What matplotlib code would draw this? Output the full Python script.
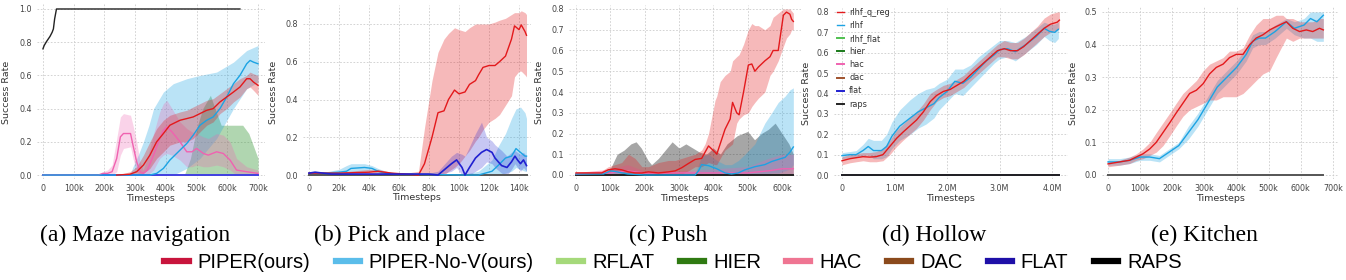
import numpy as np
import matplotlib
matplotlib.use("Agg")
import matplotlib.pyplot as plt
from matplotlib.lines import Line2D

# ---------------- data (x in thousands of steps, hollow in millions) ----------------
# (a) Maze navigation
maze_raps_x = [0, 4, 12, 23, 30, 34, 38, 44, 641]
maze_raps_y = [0.76, 0.78, 0.805, 0.835, 0.86, 0.88, 0.94, 1.0, 1.0]
maze_flat_x = [0, 700]
maze_flat_y = [0, 0]
maze_hac_x = [0, 180, 195, 210, 225, 240, 252, 262, 285, 293, 305, 316, 326, 340, 360, 380, 392, 403, 420,
              446, 468, 485, 500, 522, 538, 565, 587, 609, 630, 663, 700]
maze_hac_y = [0, 0, 0.01, 0.01, 0.02, 0.1, 0.23, 0.25, 0.25, 0.18, 0.08, 0.02, 0.01, 0.03, 0.12, 0.22, 0.27,
              0.29, 0.26, 0.2, 0.14, 0.14, 0.16, 0.13, 0.12, 0.14, 0.13, 0.09, 0.03, 0.02, 0.01]
maze_hac_hi = [0, 0, 0.02, 0.03, 0.06, 0.22, 0.35, 0.37, 0.36, 0.3, 0.2, 0.08, 0.03, 0.1, 0.25, 0.38, 0.43,
               0.45, 0.4, 0.32, 0.28, 0.26, 0.25, 0.23, 0.22, 0.25, 0.24, 0.2, 0.1, 0.05, 0.03]
maze_hac_lo = [0, 0, 0, 0, 0, 0.02, 0.12, 0.16, 0.17, 0.1, 0.02, 0, 0, 0, 0.03, 0.1, 0.12, 0.13, 0.12,
               0.09, 0.05, 0.05, 0.06, 0.05, 0.05, 0.06, 0.05, 0.03, 0, 0, 0]
maze_piper_x = [240, 283, 305, 327, 348, 370, 392, 413, 446, 468, 489, 511, 533, 554, 576, 598, 620, 641,
                663, 674, 685, 700]
maze_piper_y = [0, 0.005, 0.02, 0.06, 0.12, 0.2, 0.25, 0.3, 0.33, 0.34, 0.35, 0.37, 0.39, 0.4, 0.44, 0.47,
                0.5, 0.53, 0.58, 0.58, 0.56, 0.54]
maze_piper_hi = [0, 0.02, 0.05, 0.12, 0.2, 0.28, 0.33, 0.36, 0.38, 0.39, 0.41, 0.43, 0.45, 0.46, 0.49, 0.52,
                 0.55, 0.58, 0.6, 0.62, 0.61, 0.6]
maze_piper_lo = [0, 0, 0, 0.01, 0.04, 0.1, 0.14, 0.18, 0.2, 0.2, 0.22, 0.26, 0.3, 0.32, 0.37, 0.4, 0.44,
                 0.47, 0.52, 0.53, 0.51, 0.48]
maze_nov_x = [0, 348, 370, 392, 413, 446, 468, 489, 511, 533, 554, 576, 598, 620, 641, 663, 674, 685, 700]
maze_nov_y = [0, 0, 0.01, 0.04, 0.09, 0.15, 0.19, 0.24, 0.3, 0.33, 0.35, 0.4, 0.47, 0.55, 0.6, 0.67, 0.69,
              0.68, 0.67]
maze_nov_band_x = [283, 293, 310, 327, 345, 360, 392, 424, 468, 511, 565, 620, 663, 700]
maze_nov_hi = [0, 0.05, 0.12, 0.2, 0.3, 0.4, 0.5, 0.55, 0.58, 0.6, 0.62, 0.68, 0.75, 0.78]
maze_nov_lo = [0, 0, 0, 0, 0, 0, 0, 0, 0.04, 0.1, 0.22, 0.4, 0.52, 0.56]
maze_green_x = [460, 480, 500, 520, 545, 560, 580, 620, 650, 670, 690, 700]
maze_green_hi = [0, 0.1, 0.28, 0.4, 0.48, 0.4, 0.3, 0.3, 0.3, 0.25, 0.15, 0.1]
maze_green_lo = [0, 0, 0, 0, 0, 0, 0, 0, 0, 0, 0, 0]

# (b) Pick and place
pick_piper_x = [0, 20, 40, 46, 55, 65, 73, 77, 82, 86, 90, 93, 97, 100, 104, 107, 111, 113, 116, 120, 124,
                127, 131, 135, 137, 140, 141.5, 144, 145]
pick_piper_y = [0.01, 0.01, 0.015, 0.02, 0.01, 0.005, 0.0, 0.06, 0.2, 0.33, 0.34, 0.4, 0.45, 0.43, 0.44,
                0.48, 0.5, 0.53, 0.57, 0.58, 0.58, 0.6, 0.63, 0.72, 0.79, 0.77, 0.795, 0.76, 0.74]
pick_piper_hi = [0.015, 0.015, 0.03, 0.03, 0.015, 0.01, 0.02, 0.25, 0.5, 0.65, 0.72, 0.75, 0.78, 0.77, 0.76,
                 0.78, 0.8, 0.8, 0.8, 0.8, 0.81, 0.82, 0.83, 0.85, 0.86, 0.86, 0.87, 0.86, 0.85]
pick_piper_lo = [0.005, 0.005, 0.005, 0.01, 0.005, 0, 0, 0, 0, 0, 0, 0.02, 0.04, 0.06, 0.1, 0.13, 0.18, 0.2,
                 0.24, 0.28, 0.3, 0.32, 0.37, 0.42, 0.52, 0.55, 0.55, 0.53, 0.52]
pick_nov_x = [0, 10, 20, 25, 28, 37, 42, 46, 51, 60, 80, 104, 113, 122, 126, 131, 135, 138, 141, 144, 145]
pick_nov_y = [0.01, 0.01, 0.015, 0.02, 0.035, 0.04, 0.035, 0.02, 0.01, 0.005, 0.003, 0, 0, 0.02, 0.05, 0.09,
              0.1, 0.14, 0.12, 0.1, 0.1]
pick_nov_hi = [0.015, 0.015, 0.03, 0.05, 0.06, 0.06, 0.05, 0.035, 0.02, 0.01, 0.005, 0.005, 0.02, 0.08, 0.15,
               0.22, 0.3, 0.35, 0.36, 0.33, 0.3]
pick_nov_lo = [0.005, 0.005, 0.005, 0.005, 0.01, 0.02, 0.02, 0.01, 0.005, 0, 0, 0, 0, 0, 0, 0.01, 0.02, 0.04,
               0.03, 0.02, 0.02]
pick_flat_x = [0, 4, 15, 40, 80, 86, 95, 98.4, 102, 104, 107, 111, 115, 118.4, 122, 124, 128.4, 132, 135,
               137.3, 139, 141, 143, 145]
pick_flat_y = [0.01, 0.015, 0.005, 0.005, 0.005, 0, 0.06, 0.08, 0.04, 0.0, 0.04, 0.09, 0.12, 0.135, 0.12,
               0.09, 0.05, 0.04, 0.07, 0.1, 0.08, 0.06, 0.08, 0.05]
pick_flat_hi = [0.015, 0.02, 0.01, 0.01, 0.01, 0.02, 0.1, 0.12, 0.11, 0.1, 0.15, 0.22, 0.28, 0.2, 0.18, 0.16,
                0.13, 0.1, 0.12, 0.13, 0.12, 0.11, 0.12, 0.1]
pick_flat_lo = [0.005, 0.01, 0, 0, 0, 0, 0.02, 0.04, 0, 0, 0, 0.02, 0.04, 0.07, 0.06, 0.04, 0.01, 0, 0.03,
                0.06, 0.04, 0.02, 0.04, 0.02]
pick_raps_x = [0, 145]
pick_raps_y = [0, 0]

# (c) Push
push_piper_x = [0, 75, 94, 114, 133, 153, 172, 192, 211, 240, 269, 289, 308, 327, 347, 366, 376, 386, 405,
                410, 420, 434, 449, 456, 468, 475, 488, 502, 512, 521, 531, 550, 565, 574, 589, 604, 613, 623,
                628, 633]
push_piper_y = [0.01, 0.01, 0.025, 0.03, 0.025, 0.015, 0.01, 0.01, 0.015, 0.01, 0.015, 0.02, 0.035, 0.055,
                0.075, 0.08, 0.11, 0.14, 0.11, 0.1, 0.15, 0.22, 0.27, 0.35, 0.3, 0.29, 0.4, 0.53, 0.535, 0.5,
                0.52, 0.55, 0.57, 0.6, 0.6, 0.77, 0.785, 0.775, 0.75, 0.74]
push_piper_hi = [0.015, 0.02, 0.04, 0.05, 0.06, 0.1, 0.08, 0.04, 0.04, 0.06, 0.07, 0.07, 0.08, 0.09, 0.1,
                 0.12, 0.15, 0.2, 0.36, 0.38, 0.45, 0.48, 0.5, 0.55, 0.57, 0.58, 0.63, 0.7, 0.73, 0.72, 0.72,
                 0.7, 0.72, 0.76, 0.78, 0.8, 0.8, 0.8, 0.79, 0.78]
push_piper_lo = [0.005, 0.005, 0.01, 0.015, 0.01, 0.005, 0, 0, 0, 0, 0, 0, 0.005, 0.02, 0.04, 0.04, 0.05,
                 0.06, 0.05, 0.05, 0.08, 0.12, 0.14, 0.15, 0.25, 0.27, 0.29, 0.3, 0.33, 0.35, 0.37, 0.4, 0.48,
                 0.5, 0.55, 0.62, 0.66, 0.68, 0.7, 0.7]
push_nov_x = [0, 80, 100, 120, 150, 200, 347, 357, 366, 386, 410, 434, 453, 473, 492, 521, 550, 570, 589,
              609, 623, 633]
push_nov_y = [0.005, 0.005, 0.02, 0.015, 0.005, 0, 0, 0.02, 0.05, 0.045, 0.03, 0.01, 0.005, 0.01, 0.025,
              0.04, 0.05, 0.065, 0.075, 0.085, 0.11, 0.135]
push_nov_hi = [0.01, 0.01, 0.03, 0.03, 0.01, 0.005, 0.01, 0.05, 0.09, 0.1, 0.07, 0.05, 0.05, 0.07, 0.1, 0.15,
               0.25, 0.3, 0.35, 0.38, 0.41, 0.42]
push_nov_lo = [0, 0, 0.01, 0.005, 0, 0, 0, 0, 0.01, 0.01, 0, 0, 0, 0, 0, 0, 0, 0.01, 0.01, 0.02, 0.03, 0.05]
push_gray_x = [80, 100, 120, 140, 160, 175, 190, 210, 220, 240, 260, 280, 300, 320, 340, 360, 380, 400, 420,
               440, 470, 500, 520, 540, 560, 580, 600, 620, 633]
push_gray_hi = [0, 0.03, 0.1, 0.12, 0.15, 0.16, 0.13, 0.07, 0.05, 0.08, 0.12, 0.16, 0.13, 0.15, 0.13, 0.11,
                0.1, 0.13, 0.1, 0.15, 0.19, 0.21, 0.17, 0.2, 0.22, 0.25, 0.2, 0.15, 0.1]
push_hac_x = [0, 100, 150, 200, 300, 400, 500, 560, 600, 633]
push_hac_y = [0.005, 0.01, 0.02, 0.01, 0.01, 0.01, 0.01, 0.02, 0.03, 0.03]
push_hac_hi = [0.01, 0.03, 0.05, 0.02, 0.02, 0.03, 0.04, 0.08, 0.1, 0.1]
push_hac_lo = [0, 0, 0, 0, 0, 0, 0, 0, 0, 0]
push_raps_x = [0, 633]
push_raps_y = [0, 0]

# (d) Hollow (x in millions)
hol_piper_x = [0, 0.15, 0.27, 0.4, 0.53, 0.65, 0.78, 0.91, 1.04, 1.16, 1.29, 1.42, 1.55, 1.68, 1.8, 1.93,
               2.06, 2.19, 2.32, 2.44, 2.57, 2.7, 2.83, 2.96, 3.09, 3.21, 3.34, 3.46, 3.59, 3.72, 3.85, 3.97,
               4.1, 4.14]
hol_piper_y = [0.07, 0.08, 0.085, 0.09, 0.088, 0.09, 0.1, 0.14, 0.18, 0.21, 0.24, 0.27, 0.31, 0.36, 0.39,
               0.41, 0.42, 0.44, 0.46, 0.49, 0.52, 0.55, 0.58, 0.61, 0.62, 0.61, 0.61, 0.63, 0.66, 0.69, 0.72,
               0.74, 0.75, 0.76]
hol_piper_hi = [0.09, 0.1, 0.105, 0.11, 0.11, 0.115, 0.13, 0.17, 0.22, 0.25, 0.28, 0.31, 0.35, 0.4, 0.42,
                0.44, 0.45, 0.47, 0.49, 0.52, 0.55, 0.58, 0.61, 0.64, 0.66, 0.65, 0.65, 0.67, 0.7, 0.73, 0.77,
                0.79, 0.8, 0.8]
hol_piper_lo = [0.05, 0.06, 0.065, 0.07, 0.065, 0.065, 0.07, 0.1, 0.14, 0.17, 0.2, 0.23, 0.27, 0.32, 0.36,
                0.38, 0.39, 0.41, 0.43, 0.46, 0.49, 0.52, 0.55, 0.58, 0.58, 0.57, 0.57, 0.59, 0.62, 0.65, 0.68,
                0.7, 0.71, 0.72]
hol_nov_x = [0, 0.15, 0.27, 0.4, 0.5, 0.6, 0.75, 0.85, 0.95, 1.1, 1.3, 1.45, 1.6, 1.75, 1.85, 2.0, 2.15, 2.3,
             2.45, 2.6, 2.75, 2.9, 3.0, 3.15, 3.3, 3.5, 3.7, 3.85, 3.95, 4.05, 4.12]
hol_nov_y = [0.095, 0.1, 0.1, 0.12, 0.14, 0.12, 0.12, 0.14, 0.19, 0.24, 0.28, 0.31, 0.33, 0.35, 0.38, 0.41,
             0.46, 0.45, 0.48, 0.52, 0.56, 0.59, 0.615, 0.62, 0.605, 0.64, 0.68, 0.72, 0.705, 0.7, 0.715]
hol_nov_hi = [0.11, 0.115, 0.12, 0.15, 0.18, 0.17, 0.17, 0.2, 0.26, 0.32, 0.37, 0.4, 0.42, 0.43, 0.45, 0.47,
              0.52, 0.52, 0.54, 0.58, 0.61, 0.64, 0.66, 0.66, 0.65, 0.68, 0.72, 0.75, 0.74, 0.74, 0.75]
hol_nov_lo = [0.08, 0.085, 0.085, 0.095, 0.1, 0.08, 0.08, 0.09, 0.13, 0.17, 0.2, 0.23, 0.25, 0.28, 0.32,
              0.36, 0.4, 0.39, 0.43, 0.47, 0.51, 0.55, 0.57, 0.58, 0.56, 0.6, 0.64, 0.68, 0.66, 0.65, 0.67]
hol_zero_x = [0, 4.14]
hol_zero_y = [0, 0]
hol_legend_labels = ["rlhf_q_reg", "rlhf", "rlhf_flat", "hier", "hac", "dac", "flat", "raps"]

# (e) Kitchen
kit_piper_x = [0, 36, 67, 88, 109, 130, 150, 171, 192, 212, 233, 254, 275, 296, 316, 337, 358, 378, 399, 420,
               441, 461, 482, 503, 523, 544, 555, 575, 596, 617, 637, 658, 670]
kit_piper_y = [0.034, 0.04, 0.045, 0.055, 0.065, 0.08, 0.1, 0.13, 0.16, 0.19, 0.22, 0.25, 0.26, 0.28, 0.31,
               0.33, 0.34, 0.36, 0.37, 0.37, 0.4, 0.42, 0.43, 0.445, 0.455, 0.465, 0.47, 0.45, 0.44, 0.445,
               0.44, 0.45, 0.445]
kit_piper_hi = [0.04, 0.045, 0.055, 0.065, 0.08, 0.1, 0.13, 0.16, 0.19, 0.22, 0.25, 0.27, 0.29, 0.32, 0.34,
                0.35, 0.36, 0.38, 0.38, 0.39, 0.43, 0.46, 0.48, 0.48, 0.49, 0.49, 0.48, 0.48, 0.47, 0.47,
                0.47, 0.48, 0.48]
kit_piper_lo = [0.025, 0.03, 0.035, 0.045, 0.05, 0.06, 0.07, 0.09, 0.12, 0.15, 0.18, 0.2, 0.21, 0.22, 0.23,
                0.23, 0.24, 0.24, 0.24, 0.25, 0.27, 0.29, 0.31, 0.32, 0.36, 0.4, 0.42, 0.41, 0.42, 0.42,
                0.42, 0.42, 0.42]
kit_nov_x = [0, 36, 67, 100, 130, 160, 190, 220, 250, 280, 310, 340, 370, 400, 430, 450, 470, 490, 520, 555,
             580, 610, 630, 650, 670]
kit_nov_y = [0.04, 0.04, 0.045, 0.055, 0.055, 0.05, 0.07, 0.09, 0.13, 0.17, 0.22, 0.27, 0.3, 0.33, 0.37,
             0.41, 0.42, 0.42, 0.44, 0.47, 0.45, 0.46, 0.48, 0.47, 0.49]
kit_nov_hi = [0.05, 0.05, 0.055, 0.065, 0.065, 0.06, 0.08, 0.1, 0.15, 0.19, 0.24, 0.29, 0.32, 0.35, 0.39,
              0.43, 0.44, 0.44, 0.46, 0.48, 0.47, 0.48, 0.5, 0.5, 0.5]
kit_nov_lo = [0.03, 0.03, 0.035, 0.045, 0.045, 0.04, 0.06, 0.08, 0.11, 0.15, 0.2, 0.25, 0.28, 0.31, 0.35,
              0.39, 0.4, 0.4, 0.42, 0.45, 0.43, 0.42, 0.42, 0.41, 0.41]
kit_raps_x = [0, 670]
kit_raps_y = [0, 0]

captions = ["(a) Maze navigation", "(b) Pick and place", "(c) Push", "(d) Hollow", "(e) Kitchen"]
legend_labels = ["PIPER(ours)", "PIPER-No-V(ours)", "RFLAT", "HIER", "HAC", "DAC", "FLAT", "RAPS"]
legend_colors = ["#c8143c", "#5bbdea", "#a5d97a", "#2f7a12", "#ef7592", "#8b4a1c", "#1e0fa8", "#000000"]

# ---------------- style ----------------
C_RED = "#e3191c"
C_BLUE = "#1ca3e3"
C_PINK = "#f062b0"
C_GREEN = "#3a9a3a"
C_LGREEN = "#4fc04f"
C_DGREEN = "#1a7a1a"
C_BROWN = "#a0522d"
C_FLAT = "#2020d0"
C_RAPS = "#222222"

W, H = 1346, 280
fig = plt.figure(figsize=(W / 100, H / 100), dpi=100)


def make_ax(px_left, px_right, px_top, px_bottom, xlim, ylim):
    ax = fig.add_axes([px_left / W, 1 - px_bottom / H, (px_right - px_left) / W, (px_bottom - px_top) / H])
    ax.set_xlim(*xlim)
    ax.set_ylim(*ylim)
    for s in ax.spines.values():
        s.set_visible(False)
    ax.grid(True, color="#cccccc", linestyle=(0, (2, 2)), linewidth=0.6)
    ax.set_axisbelow(True)
    ax.tick_params(length=0, pad=3.5, labelsize=5.8, labelcolor="#444444")
    ax.set_ylabel("Success Rate", fontsize=6.8, color="#333333")
    ax.set_xlabel("Timesteps", fontsize=6.8, color="#333333", labelpad=0.5)
    return ax


def band(ax, x, lo, hi, color, alpha):
    ax.fill_between(x, lo, hi, color=color, alpha=alpha, linewidth=0)


def line(ax, x, y, color, lw=1.0, label=None):
    ax.plot(x, y, color=color, linewidth=lw, label=label)


def set_ylabel_px(ax, px_x, px_y):
    ax.yaxis.set_label_coords(px_x / W, 1 - px_y / H, transform=fig.transFigure)
    ax.yaxis.label.set_verticalalignment("center")


def kfmt(vals):
    return ["0" if v == 0 else f"{int(v)}k" for v in vals]


# (a) Maze
ax = make_ax(36.5, 264.5, 4.0, 179.2, (-21, 721), (-0.025, 1.03))
band(ax, maze_green_x, maze_green_lo, maze_green_hi, C_GREEN, 0.4)
band(ax, maze_nov_band_x, maze_nov_lo, maze_nov_hi, C_BLUE, 0.3)
band(ax, maze_hac_x, maze_hac_lo, maze_hac_hi, C_PINK, 0.28)
band(ax, maze_piper_x, maze_piper_lo, maze_piper_hi, C_RED, 0.3)
line(ax, maze_flat_x, maze_flat_y, "#4040e0", 1.4)
line(ax, maze_hac_x, maze_hac_y, C_PINK)
line(ax, maze_nov_x, maze_nov_y, C_BLUE)
line(ax, maze_piper_x, maze_piper_y, C_RED)
line(ax, maze_raps_x, maze_raps_y, C_RAPS)
t = np.arange(0, 701, 100)
ax.set_xticks(t, kfmt(t))
ax.set_yticks(np.arange(0, 1.01, 0.2))
ax.yaxis.set_major_formatter(matplotlib.ticker.FormatStrFormatter("%.1f"))
set_ylabel_px(ax, 6.5, 92)

# (b) Pick and place
ax = make_ax(303, 531, 5.1, 178.8, (-4, 148), (-0.02, 0.9))
band(ax, pick_nov_x, pick_nov_lo, pick_nov_hi, C_BLUE, 0.3)
band(ax, pick_piper_x, pick_piper_lo, pick_piper_hi, C_RED, 0.3)
band(ax, pick_flat_x, pick_flat_lo, pick_flat_hi, C_FLAT, 0.25)
line(ax, pick_raps_x, pick_raps_y, "#555555", 1.4)
line(ax, pick_nov_x, pick_nov_y, C_BLUE)
line(ax, pick_piper_x, pick_piper_y, C_RED)
line(ax, pick_flat_x, pick_flat_y, C_FLAT, 1.2)
t = np.arange(0, 141, 20)
ax.set_xticks(t, kfmt(t))
ax.set_yticks(np.arange(0, 0.81, 0.2))
ax.yaxis.set_major_formatter(matplotlib.ticker.FormatStrFormatter("%.1f"))
set_ylabel_px(ax, 273, 92)

# (c) Push
ax = make_ax(569.1, 800.9, 4.85, 179.15, (-20, 655), (-0.02, 0.82))
band(ax, push_gray_x, [0] * len(push_gray_x), push_gray_hi, "#000000", 0.35)
band(ax, push_nov_x, push_nov_lo, push_nov_hi, C_BLUE, 0.3)
band(ax, push_hac_x, push_hac_lo, push_hac_hi, C_PINK, 0.3)
band(ax, push_piper_x, push_piper_lo, push_piper_hi, C_RED, 0.3)
line(ax, push_raps_x, push_raps_y, C_RAPS, 1.4)
line(ax, push_hac_x, push_hac_y, C_PINK)
line(ax, push_nov_x, push_nov_y, C_BLUE)
line(ax, push_piper_x, push_piper_y, C_RED)
t = np.arange(0, 601, 100)
ax.set_xticks(t, kfmt(t))
ax.set_yticks(np.arange(0, 0.81, 0.1))
ax.yaxis.set_major_formatter(matplotlib.ticker.FormatStrFormatter("%.1f"))
set_ylabel_px(ax, 540, 92)

# (d) Hollow
ax = make_ax(834.1, 1067.8, 7.9, 179.1, (-0.15, 4.3), (-0.02, 0.82))
band(ax, hol_nov_x, hol_nov_lo, hol_nov_hi, C_BLUE, 0.3)
band(ax, hol_piper_x, hol_piper_lo, hol_piper_hi, C_RED, 0.3)
hl = []
hl += ax.plot(hol_piper_x, hol_piper_y, color=C_RED, linewidth=1.0, zorder=4)
hl += ax.plot(hol_nov_x, hol_nov_y, color=C_BLUE, linewidth=1.0, zorder=3)
for c in [C_LGREEN, C_DGREEN, C_PINK, C_BROWN, C_FLAT, C_RAPS]:
    hl += ax.plot(hol_zero_x, hol_zero_y, color=c, linewidth=1.4)
leg = ax.legend(hl, hol_legend_labels, loc="upper left", bbox_to_anchor=(0.012, 1.0), frameon=False,
                fontsize=5.9, handlelength=0.9, handletextpad=0.6, labelspacing=0.5, borderpad=0,
                borderaxespad=0)
for txt in leg.get_texts():
    txt.set_color("#333333")
t = np.arange(0, 4.01, 1.0)
ax.set_xticks(t, ["0" if v == 0 else f"{v:.1f}M" for v in t])
ax.set_yticks(np.arange(0, 0.81, 0.1))
ax.yaxis.set_major_formatter(matplotlib.ticker.FormatStrFormatter("%.1f"))
set_ylabel_px(ax, 806.5, 93)

# (e) Kitchen
ax = make_ax(1101.6, 1339.4, 7.1, 179.2, (-20, 720), (-0.013, 0.515))
band(ax, kit_nov_x, kit_nov_lo, kit_nov_hi, C_BLUE, 0.3)
band(ax, kit_piper_x, kit_piper_lo, kit_piper_hi, C_RED, 0.3)
line(ax, kit_raps_x, kit_raps_y, "#555555", 1.4)
line(ax, kit_nov_x, kit_nov_y, C_BLUE)
line(ax, kit_piper_x, kit_piper_y, C_RED)
t = np.arange(0, 701, 100)
ax.set_xticks(t, kfmt(t))
ax.set_yticks(np.arange(0, 0.51, 0.1))
ax.yaxis.set_major_formatter(matplotlib.ticker.FormatStrFormatter("%.1f"))
set_ylabel_px(ax, 1073, 93)

# captions
cap_x = [135.5, 400, 668, 934.5, 1204]
for cx, cap in zip(cap_x, captions):
    fig.text(cx / W, 1 - 241 / H, cap, ha="center", va="baseline", fontsize=17,
             family="Liberation Serif", color="black")

# figure legend
handles = [Line2D([0], [0], color=c, linewidth=4.5) for c in legend_colors]
fig.legend(handles, legend_labels, loc="center", bbox_to_anchor=(673 / W, 1 - 263 / H), ncol=8,
           frameon=False, handlelength=1.2, handletextpad=0.45, columnspacing=1.25,
           prop={"family": "Liberation Sans", "size": 14.5}, borderpad=0, borderaxespad=0)

fig.savefig("out.png", dpi=100)
